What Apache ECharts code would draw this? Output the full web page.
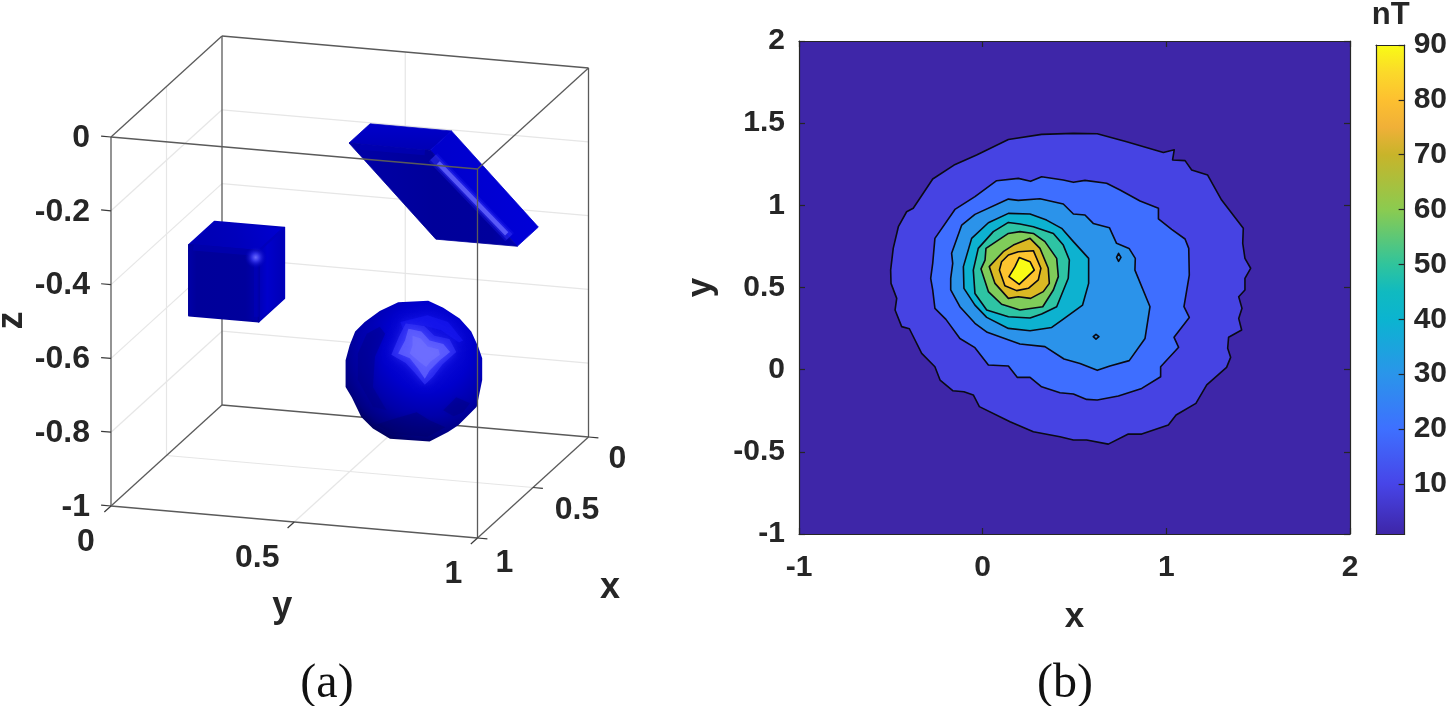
<!DOCTYPE html>
<html><head><meta charset="utf-8">
<style>html,body{margin:0;padding:0;background:#fff}#c{width:1450px;height:706px}</style>
<script src="https://cdn.jsdelivr.net/npm/echarts@6/dist/echarts.min.js"></script>
</head><body><div id="c"></div>
<script>
// ---------- panel (b): filled contour levels, in (x, y) data units ----------
const level10 = [[.321,1.432],[.494,1.438],[.624,1.436],[.784,1.387],[.984,1.322],[1.043,1.338],[1.034,1.276],[1.102,1.272],[1.138,1.215],[1.225,1.184],[1.301,1.032],[1.419,.860],[1.416,.769],[1.428,.677],[1.459,.617],[1.428,.556],[1.428,.485],[1.394,.444],[1.412,.373],[1.394,.312],[1.410,.241],[1.339,.197],[1.334,.130],[1.350,.075],[1.328,.014],[1.220,-.093],[1.161,-.205],[1.053,-.276],[1.011,-.337],[.866,-.392],[.793,-.392],[.684,-.453],[.566,-.428],[.494,-.428],[.421,-.408],[.276,-.378],[.149,-.317],[-.018,-.225],[-.051,-.154],[-.102,-.134],[-.163,-.128],[-.232,-.063],[-.260,.018],[-.332,.099],[-.399,.249],[-.441,.262],[-.477,.363],[-.468,.434],[-.499,.525],[-.501,.606],[-.487,.738],[-.459,.870],[-.414,.961],[-.378,.982],[-.272,1.160],[-.156,1.245],[-.033,1.306],[.140,1.401]];
const level20 = [[.076,1.150],[.194,1.164],[.261,1.146],[.321,1.174],[.439,1.154],[.494,1.140],[.557,1.152],[.675,1.134],[.748,1.093],[.857,1.026],[.957,.982],[.957,.917],[1.029,.854],[1.102,.795],[1.122,.738],[1.125,.576],[1.096,.383],[1.125,.318],[1.042,.197],[1.067,.136],[.969,.018],[.969,-.043],[.866,-.114],[.739,-.160],[.624,-.185],[.566,-.181],[.494,-.148],[.421,-.140],[.321,-.104],[.258,-.047],[.189,-.047],[.140,.022],[.031,.028],[-.042,.134],[-.124,.190],[-.200,.306],[-.260,.373],[-.272,.485],[-.283,.556],[-.272,.647],[-.260,.799],[-.151,.975],[-.042,1.053]];
const level30 = [[.140,1.038],[.194,1.030],[.312,1.040],[.439,1.008],[.494,.947],[.557,.941],[.602,.890],[.690,.864],[.729,.769],[.797,.738],[.831,.677],[.829,.606],[.911,.383],[.884,.190],[.798,.055],[.693,.022],[.624,-.004],[.530,.038],[.443,.065],[.339,.140],[.203,.156],[.025,.227],[-.042,.282],[-.124,.383],[-.174,.485],[-.174,.556],[-.163,.647],[-.169,.708],[-.114,.880],[-.042,.945]];
const level40 = [[.140,.951],[.258,.947],[.348,.910],[.430,.860],[.494,.779],[.577,.677],[.577,.525],[.544,.393],[.439,.308],[.376,.257],[.258,.237],[.140,.251],[.022,.318],[-.042,.393],[-.102,.495],[-.105,.627],[-.060,.799],[.031,.894]];
const level50 = [[.140,.896],[.203,.886],[.276,.870],[.385,.829],[.439,.758],[.472,.667],[.466,.556],[.403,.383],[.321,.339],[.258,.314],[.140,.322],[.022,.363],[-.042,.464],[-.051,.606],[-.024,.738],[.058,.840]];
const level60 = [[.140,.829],[.203,.840],[.276,.829],[.339,.779],[.403,.677],[.412,.566],[.385,.485],[.327,.383],[.203,.363],[.103,.398],[.031,.475],[-.009,.613],[.013,.667],[.018,.738]];
const level70 = [[.258,.799],[.312,.738],[.357,.617],[.363,.525],[.330,.475],[.261,.434],[.194,.444],[.140,.434],[.067,.525],[.036,.627],[.112,.718],[.167,.758]];
const level80 = [[.140,.698],[.194,.718],[.276,.724],[.317,.617],[.303,.546],[.249,.495],[.185,.481],[.121,.511],[.091,.606],[.103,.657]];
const level90 = [[.199,.682],[.258,.657],[.281,.606],[.199,.519],[.143,.566],[.176,.627]];
const islandA = [[.729,.683],[.740,.708],[.753,.683],[.740,.659]];
const islandB = [[.602,.201],[.617,.215],[.633,.201],[.617,.186]];
const background = [[-1,-1],[2,-1],[2,2],[-1,2]];
const contourRings = [background,level10,level20,level30,islandA,islandB,level40,level50,level60,level70,level80,level90];
const contourFills = ['#3e26a8','#4643e3','#3e6eff','#2b93ea','#2b93ea','#2b93ea','#0db2d0','#2ec4a4','#80cc5a','#dbb923','#fdc42f','#f9fb15'];

// ---------- colour bar ----------
const barValues = [0.85,10,20,30,40,45,50,60,70,75,80,85,90];
const barColors = ['#3e26a8','#4745e8','#3e70ff','#2a95ea','#0bb4d0','#10bac0','#30c49c','#8bcb50','#c8b42a','#f0b038','#fdc030','#fbd92a','#f9fb15'];
const barTicks = [10,20,30,40,50,60,70,80,90];

// ---------- panel (a): tick labels and solids, in (x, y, z) data units ----------
const zTicks = [0,-0.2,-0.4,-0.6,-0.8,-1];
const zTickLabels = ['0','-0.2','-0.4','-0.6','-0.8','-1'];
const xyTicks = [0,0.5,1];
const xyTickLabels = ['0','0.5','1'];
const cube = {x:[.47,.70], y:[.122,.312], z:[-.555,-.364]};
const slab = {x:[.31,.50], topY:[.498,.72], botY:[.735,.957], z:[-.35,-.11]};
const sphereCentre = [.5,.675,-.713];
const sphereRim = [[-.23,1.01],[.21,1.03],[.43,.93],[.67,.77],[.84,.58],[.94,.36],[1,.19],[1,-.13],[.92,-.52],[.8,-.64],[.65,-.79],[.5,-.89],[.23,-1.03],[-.35,-.99],[-.6,-.84],[-.77,-.67],[-.91,-.38],[-1,-.23],[-1,.16],[-.94,.38],[-.86,.58],[-.72,.72],[-.5,.88]];
const sphereGlowOuter = [[-.12,.7],[.15,.66],[.3,.52],[.52,.47],[.62,.28],[.42,.1],[.28,-.08],[.16,-.2],[.02,-.03],[-.12,.12],[-.33,.24],[-.22,.5]];
const sphereGlow = [[-.08,.62],[.11,.58],[.23,.45],[.43,.4],[.53,.28],[.38,.16],[.23,.01],[.16,-.11],[.06,.04],[-.06,.19],[-.23,.26],[-.13,.45]];
const sphereCore = [[-.02,.52],[.1,.48],[.2,.36],[.36,.32],[.38,.24],[.24,.14],[.18,.06],[.08,.14],[-.06,.26],[-.02,.38]];
const sphereSheen = [[-.2,.72],[.2,.82],[.5,.72],[.72,.45],[.66,.42],[.4,.6],[.1,.68],[-.15,.6]];
const sphereLeftBand = [[-.69,.55],[-.5,.65],[-.42,.55],[-.57,.21],[-.6,-.23],[-.4,-.57],[-.6,-.52],[-.82,-.13],[-.82,.26]];
const sphereLowerBlotch = [[.62,-.38],[.82,-.47],[.72,-.6],[.58,-.66],[.43,-.57]];
const sphereBase = [[-.3,-.92],[.2,-.96],[.46,-.82],[.23,-.72],[.04,-.6],[-.3,-.7],[-.55,-.78]];

// View: how the 3-D axes project on to the hidden plane axes of the left grid.
const project = (x,y,z) => [((1-x)*111+y*366.5)/477, 1-(32*y+101*x-369*z)/501];
const rU = 68.3/477, rV = 68.3/501;
const rimPlane = a => { const c = project(...sphereCentre); return a.map(o => [c[0]+o[0]*rU, c[1]+o[1]*rV]); };

const G = echarts.graphic;
const scene = [];
const poly3 = (pts, style) => scene.push(api => ({type:'polygon',shape:{points:pts.map(p=>api.coord(project(...p)))},style}));
const polyP = (pts, style) => scene.push(api => ({type:'polygon',shape:{points:pts.map(p=>api.coord(p))},style}));
const line3 = (a,b,stroke,w) => scene.push(api => ({type:'polyline',shape:{points:[api.coord(project(...a)),api.coord(project(...b))]},style:{stroke,lineWidth:w,fill:'none',lineCap:'butt'}}));
const text3 = (t,p,dx,dy,opt={}) => scene.push(api => { const c = api.coord(project(...p));
  return {type:'text',x:c[0]+dx,y:c[1]+dy,rotation:opt.rot||0,style:{text:t,x:0,y:0,fill:'#262626',font:'bold '+(opt.size||32)+'px "Liberation Sans"',align:opt.align||'center',verticalAlign:'middle'}}; });

const GRID='#e6e6e6', EDGE='#5a5a5a', TICK='#3a3a3a';
// walls and floor grid
[-.2,-.4,-.6,-.8].forEach(z => { line3([1,0,z],[0,0,z],GRID,1.2); line3([0,0,z],[0,1,z],GRID,1.2); });
line3([.5,0,-1],[.5,0,0],GRID,1.2);
line3([0,.5,-1],[0,.5,0],GRID,1.2);
line3([.5,0,-1],[.5,1,-1],GRID,1.2);
line3([0,.5,-1],[1,.5,-1],GRID,1.2);
// back edges, behind the solids
line3([0,0,-1],[0,0,0],EDGE,1.3);
line3([0,1,-1],[0,1,0],EDGE,1.3);
line3([0,0,-1],[0,1,-1],EDGE,1.3);
line3([0,0,0],[0,1,0],EDGE,1.3);
line3([1,0,0],[0,0,0],EDGE,1.3);
// cube
{
  const {x:[a,b],y:[c,d],z:[e,f]} = cube;
  poly3([[b,c,f],[a,c,f],[a,d,f],[b,d,f]],{fill:new G.LinearGradient(0,1,1,0,[{offset:0,color:'#0000b0'},{offset:.5,color:'#0000bc'},{offset:1,color:'#0000d4'}]),stroke:'#0000bc',lineWidth:2,lineJoin:'round'});
  poly3([[b,d,f],[a,d,f],[a,d,e],[b,d,e]],{fill:new G.LinearGradient(0,0,1,0,[{offset:0,color:'#0000b4'},{offset:.35,color:'#0000cc'},{offset:1,color:'#0000b4'}]),stroke:'#0000bc',lineWidth:2,lineJoin:'round'});
  poly3([[b,c,f],[b,d,f],[b,d,e],[b,c,e]],{fill:new G.LinearGradient(0,0,1,0,[{offset:0,color:'#0000a8'},{offset:.12,color:'#00009a'},{offset:.8,color:'#00009c'},{offset:1,color:'#0000b0'}]),stroke:'#00009c',lineWidth:2,lineJoin:'round'});
  line3([b,c+.012,f-.006],[b,d-.012,f-.006],'rgba(0,0,190,.45)',6);
  line3([b,d-.006,f-.012],[b,d-.006,e+.012],'rgba(0,0,190,.45)',5);
  scene.push(api => { const p = api.coord(project(b,d-.008,f-.018));
    return {type:'circle',shape:{cx:p[0],cy:p[1],r:11},style:{fill:new G.RadialGradient(.5,.5,.5,[{offset:0,color:'#6a6aff'},{offset:.35,color:'#3232e6'},{offset:1,color:'rgba(0,0,190,0)'}])}}; });
}
// slab
{
  const {x:[a,b],topY:[t0,t1],botY:[b0,b1],z:[z0,z1]} = slab;
  poly3([[b,t0,z1],[a,t0,z1],[a,t1,z1],[b,t1,z1]],{fill:new G.LinearGradient(0,0,0,1,[{offset:0,color:'#0000cc'},{offset:1,color:'#0000b4'}]),stroke:'#0000c0',lineWidth:.8});
  poly3([[b,t1,z1],[a,t1,z1],[a,b1,z0],[b,b1,z0]],{fill:new G.LinearGradient(0,0,1,0,[{offset:0,color:'#0000cc'},{offset:1,color:'#0000d8'}]),stroke:'#0000d0',lineWidth:.8});
  poly3([[b,t0,z1],[b,t1,z1],[b,b1,z0],[b,b0,z0]],{fill:new G.LinearGradient(0,0,1,0,[{offset:0,color:'#0000a8'},{offset:.5,color:'#00009a'},{offset:.85,color:'#00009c'},{offset:1,color:'#0000b4'}]),stroke:'#00009c',lineWidth:.8});
  line3([b,t0+.03,z1-.006],[b,t1-.015,z1-.006],'rgba(0,0,190,.5)',7);
  const s0=[b-.004,t1+.006,z1-.02], s1=[b-.004,b1-.022,z0+.022];
  line3(s0,s1,'rgba(30,30,235,.35)',12);
  line3(s0,s1,'rgba(50,50,245,.45)',8);
  line3([b-.004,t1+.02,z1-.034],[b-.004,b1-.03,z0+.03],'rgba(104,104,255,.8)',4.5);
}
// sphere
polyP(rimPlane(sphereRim),{fill:new G.RadialGradient(.6,.33,.72,[{offset:0,color:'#1010e4'},{offset:.45,color:'#0000cc'},{offset:.7,color:'#0000aa'},{offset:.9,color:'#000082'},{offset:1,color:'#00005c'}])});
polyP(rimPlane(sphereLeftBand),{fill:'rgba(0,0,130,.38)',shadowBlur:6,shadowColor:'rgba(0,0,130,.5)'});
polyP(rimPlane(sphereBase),{fill:'rgba(0,0,90,.28)',shadowBlur:6,shadowColor:'rgba(0,0,90,.4)'});
polyP(rimPlane(sphereLowerBlotch),{fill:'rgba(0,0,120,.35)',shadowBlur:5,shadowColor:'rgba(0,0,120,.5)'});
polyP(rimPlane(sphereSheen),{fill:'rgba(24,24,240,.6)',shadowBlur:8,shadowColor:'#1414ee'});
polyP(rimPlane(sphereGlowOuter),{fill:'rgba(50,50,245,.7)',shadowBlur:10,shadowColor:'#2828f0'});
polyP(rimPlane(sphereGlow),{fill:'rgba(96,96,255,.8)',shadowBlur:7,shadowColor:'#4a4aff'});
polyP(rimPlane(sphereCore),{fill:'rgba(112,112,255,.7)',shadowBlur:6,shadowColor:'#6a6aff'});
// front edges, in front of the solids
line3([1,0,-1],[1,0,0],EDGE,1.3);
line3([1,1,-1],[1,1,0],EDGE,1.3);
line3([1,0,0],[1,1,0],EDGE,1.3);
line3([1,1,0],[0,1,0],EDGE,1.3);
line3([1,0,-1],[1,1,-1],EDGE,1.3);
line3([1,1,-1],[0,1,-1],EDGE,1.3);
line3([1,0,-1],[0,0,-1],EDGE,1.3);
// ticks and labels
zTicks.forEach((z,i) => { line3([1,0,z],[1,-.027,z],TICK,1.2); text3(zTickLabels[i],[1,0,z],-21,1,{align:'right'}); });
const yLabelDx=[-25,-37,-24], xLabelDx=[29,44,27], xLabelDy=[22,23,25];
xyTicks.forEach((t,i) => {
  line3([1,t,-1],[1.06,t,-1],TICK,1.2);
  text3(xyTickLabels[i],[1,t,-1],yLabelDx[i],36);
  line3([t,1,-1],[t,1.027,-1],TICK,1.2);
  text3(xyTickLabels[i],[t,1,-1],xLabelDx[i],xLabelDy[i]);
});
text3('y',[1,.5,-1],-12,85,{size:36});
text3('x',[.5,1,-1],77,101,{size:36});
text3('z',[1,0,-.5],-99,-1,{rot:Math.PI/2,size:36});

const axisStyle = {lineStyle:{color:'#262626',width:1.2}};
const tickInside = {inside:true,length:6,lineStyle:{color:'#262626',width:1.2}};
const labelFont = {color:'#262626',fontFamily:'Liberation Sans',fontWeight:'bold',fontSize:30};
const nameFont = {color:'#262626',fontFamily:'Liberation Sans',fontWeight:'bold',fontSize:35};

const option = {
  animation:false,
  backgroundColor:'#fff',
  grid:[
    {left:111,top:36,width:477,height:501},
    {left:799,top:41,width:551,height:493},
    {left:1376,top:41,width:32,height:493}
  ],
  xAxis:[
    {gridIndex:0,type:'value',min:0,max:1,show:false},
    {gridIndex:1,type:'value',min:-1,max:2,interval:1,position:'bottom',z:5,axisLine:{onZero:false,...axisStyle},axisTick:tickInside,splitLine:{show:false},axisLabel:{...labelFont,margin:19},name:'x',nameLocation:'middle',nameGap:66,nameTextStyle:nameFont},
    {gridIndex:1,type:'value',min:-1,max:2,interval:1,position:'top',z:5,axisLine:{onZero:false,...axisStyle},axisTick:tickInside,splitLine:{show:false},axisLabel:{show:false}},
    {gridIndex:2,type:'value',min:0,max:1,position:'bottom',z:5,axisLine:{onZero:false,...axisStyle},axisTick:{show:false},splitLine:{show:false},axisLabel:{show:false}},
    {gridIndex:2,type:'value',min:0,max:1,position:'top',z:5,axisLine:{onZero:false,...axisStyle},axisTick:{show:false},splitLine:{show:false},axisLabel:{show:false}}
  ],
  yAxis:[
    {gridIndex:0,type:'value',min:0,max:1,show:false},
    {gridIndex:1,type:'value',min:-1,max:2,interval:.5,position:'left',z:5,axisLine:{onZero:false,...axisStyle},axisTick:tickInside,splitLine:{show:false},axisLabel:{...labelFont,margin:14,padding:[2,0,0,0]},name:'y',nameLocation:'middle',nameGap:80,nameTextStyle:nameFont},
    {gridIndex:1,type:'value',min:-1,max:2,interval:.5,position:'right',z:5,axisLine:{onZero:false,...axisStyle},axisTick:tickInside,splitLine:{show:false},axisLabel:{show:false}},
    {gridIndex:2,type:'value',min:barValues[0],max:90,position:'right',z:5,axisLine:{onZero:false,...axisStyle},
      axisTick:{...tickInside,customValues:barTicks},splitLine:{show:false},axisLabel:{...labelFont,margin:9,padding:[3,0,0,0],customValues:barTicks,formatter:v=>String(v)},
      name:'nT',nameLocation:'end',nameGap:14,nameTextStyle:{...nameFont,fontSize:31,align:'center',padding:[0,0,0,-28]}},
    {gridIndex:2,type:'value',min:barValues[0],max:90,position:'left',z:5,axisLine:{onZero:false,...axisStyle},axisTick:{show:false},splitLine:{show:false},axisLabel:{show:false}}
  ],
  graphic:[
    {type:'text',x:327,y:684,style:{text:'(a)',font:'48px "Liberation Serif"',fill:'#111',align:'center',verticalAlign:'middle'}},
    {type:'text',x:1065,y:684,style:{text:'(b)',font:'48px "Liberation Serif"',fill:'#111',align:'center',verticalAlign:'middle'}}
  ],
  series:[
    {type:'custom',name:'solids',xAxisIndex:0,yAxisIndex:0,silent:true,clip:false,z:2,
      data:scene.map((_,i)=>[i]),
      renderItem:(params,api)=>scene[params.dataIndex](api)},
    {type:'custom',name:'contours',xAxisIndex:1,yAxisIndex:1,silent:true,z:2,
      data:contourRings.map((_,i)=>[i]),
      renderItem:(params,api)=>{const i=params.dataIndex;return {type:'polygon',shape:{points:contourRings[i].map(p=>api.coord(p))},
        style:{fill:contourFills[i],stroke:i?'#0a0a14':contourFills[i],lineWidth:i?1.6:0,lineJoin:'round'}};}},
    {type:'custom',name:'colour bar',xAxisIndex:3,yAxisIndex:3,silent:true,z:2,
      data:[[0]],
      renderItem:(params,api)=>{const a=api.coord([0,90]),b=api.coord([1,barValues[0]]);
        const span=90-barValues[0];
        return {type:'rect',shape:{x:a[0],y:a[1],width:b[0]-a[0],height:b[1]-a[1]},
          style:{fill:new G.LinearGradient(0,0,0,1,barValues.map((v,i)=>({offset:(90-v)/span,color:barColors[i]})).reverse())}};}}
  ]
};
echarts.init(document.getElementById('c'),null,{renderer:'canvas'}).setOption(option);
</script></body></html>
